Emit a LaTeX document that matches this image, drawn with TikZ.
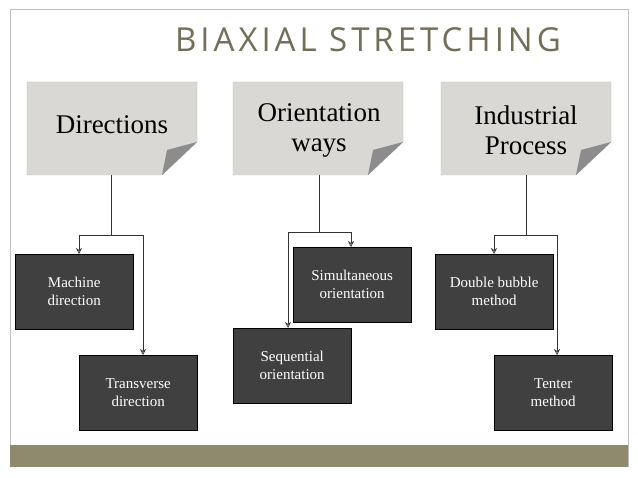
\documentclass[tikz,border=0pt]{standalone}
\usepackage{fontspec}
\setmainfont{Liberation Serif}
\newfontfamily\titlefont[LetterSpace=12]{Open Sans}
\usetikzlibrary{arrows.meta}
\definecolor{band}{HTML}{8F8A6E}
\definecolor{paper}{HTML}{D9D8D4}
\definecolor{dark}{HTML}{404040}
\begin{document}
\begin{tikzpicture}[x=1pt,y=-1pt,
  top/.style={font=\fontsize{27}{30}\selectfont,align=center,inner sep=0},
  dk/.style={draw=black,fill=dark,text=white,font=\fontsize{15}{18}\selectfont,align=center,minimum width=118pt,minimum height=75pt,inner sep=2pt,anchor=north west},
  con/.style={draw=black!80,line width=0.7pt},
  arr/.style={con,-{Stealth[length=6pt,width=6pt,open]}}]
\useasboundingbox (0,0) rectangle (638,478);
\fill[white] (0,0) rectangle (638,478);
\draw[black!25,line width=1pt] (10,10) rectangle (628,467);
\fill[band] (10,445) rectangle (628,467);
\node[text=band!80!black,font=\titlefont\fontsize{33}{36}\selectfont] (title) at (368,40) {BIAXIAL STRETCHING};
\foreach \n/\x in {d/27,o/233,i/441}{
  \fill[paper,draw=black!25] (\x,82) -- ++(170,0) -- ++(0,60) -- ++(-35,33) -- ++(-135,0) -- cycle;
  \fill[black!45] (\x+170,142) -- (\x+135,175) -- (\x+140,150) -- cycle;
  \coordinate (\n b) at (\x+85,175);
}
\node[top] (dt) at (112,125) {Directions};
\node[top] (ot) at (319,130) {Orientation\\ ways};
\node[top] (it) at (526,130) {Industrial\\ Process};
\node[dk] (m) at (15,254) {Machine\\direction};
\node[dk] (t) at (79,355) {Transverse\\direction};
\node[dk] (s) at (293,247) {Simultaneous\\orientation};
\node[dk] (q) at (233,328) {Sequential\\orientation};
\node[dk] (db) at (435,254) {Double bubble\\method};
\node[dk] (te) at (494,355) {Tenter\\method};
\coordinate (dj) at (111,235); \coordinate (oj) at (319,232); \coordinate (ij) at (526,235);
\draw[con] (111,175) -- (dj);
\draw[arr] (79,235) -- (m.north -| 79,0);
\draw[arr] (143,235) -- (t.north -| 143,0);
\draw[con] (79,235) -- (143,235);
\draw[con] (319,175) -- (oj);
\draw[con] (288,232) -- (351,232);
\draw[arr] (351,232) -- (s.north -| 351,0);
\draw[arr] (288,232) -- (q.north -| 288,0);
\draw[con] (526,175) -- (ij);
\draw[con] (494,235) -- (557,235);
\draw[arr] (494,235) -- (db.north -| 494,0);
\draw[arr] (557,235) -- (te.north -| 557,0);
\end{tikzpicture}
\end{document}
